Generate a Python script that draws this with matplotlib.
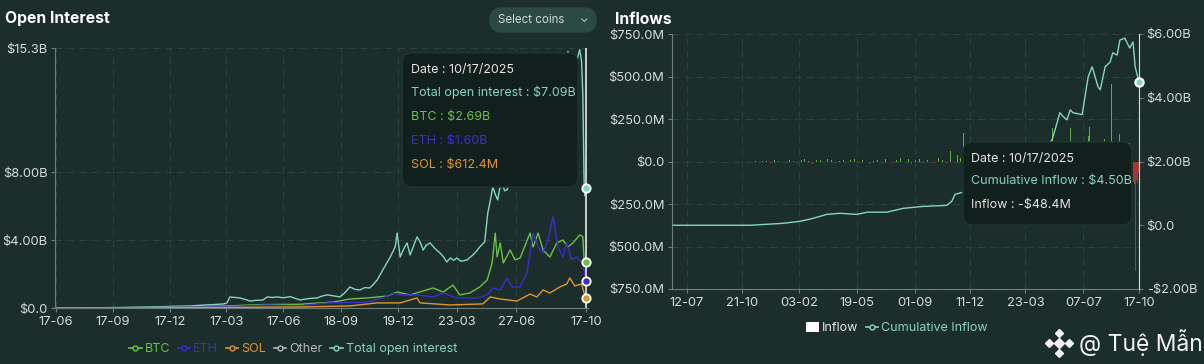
import numpy as np
import pandas as pd
import matplotlib
matplotlib.use('Agg')
import matplotlib.pyplot as plt
from matplotlib.patches import FancyBboxPatch, Patch
from matplotlib.lines import Line2D
from matplotlib.transforms import IdentityTransform

plt.rcParams['font.family'] = ['Inter', 'DejaVu Sans']

W, H = 1204, 364
ORIGIN = pd.Timestamp('2023-06-17')   # day 0 for every x value below

# ---------------- open interest ($B) ----------------
total_days = [0, 40, 80, 120, 151, 190, 216, 240, 253, 270,
              275, 280, 288, 296, 305, 312, 322, 333, 340, 348,
              356, 366, 377, 393, 405, 420, 428, 436, 446, 457,
              465, 473, 481, 489, 497, 505, 511, 517, 526, 538,
              546, 549, 554, 560, 565, 570, 575, 581, 586, 591,
              596, 602, 610, 618, 624, 629, 635, 640, 645, 652,
              662, 667, 671, 677, 682, 690, 695, 700, 703, 708,
              711, 714, 718, 722, 726, 730, 736, 742, 747, 755,
              763, 770, 779, 787, 795, 803, 811, 818, 824, 830,
              835, 840, 843, 846, 848, 850, 851, 853]
total_oi = [0.0, 0.01, 0.02, 0.04, 0.06, 0.10, 0.12, 0.18, 0.20, 0.24,
            0.30, 0.65, 0.62, 0.59, 0.50, 0.41, 0.45, 0.47, 0.65, 0.62,
            0.65, 0.60, 0.67, 0.47, 0.55, 0.59, 0.70, 0.77, 0.72, 0.65,
            0.90, 1.24, 1.10, 1.06, 1.20, 1.18, 1.40, 1.65, 2.24, 3.00,
            3.60, 4.41, 3.00, 3.50, 3.83, 3.12, 3.60, 4.18, 3.90, 3.41,
            3.70, 3.83, 3.50, 3.24, 3.00, 2.71, 2.95, 2.80, 2.94, 2.75,
            2.83, 3.00, 3.12, 3.35, 3.59, 3.88, 5.59, 6.50, 7.12, 6.60,
            6.36, 7.00, 7.36, 6.90, 6.95, 7.40, 7.36, 8.30, 9.00, 10.2,
            11.0, 12.0, 13.0, 12.2, 12.0, 13.1, 14.0, 13.2, 15.1, 14.2,
            13.5, 14.8, 15.2, 14.5, 12.5, 7.5, 6.6, 7.09]

btc_days = [0, 150, 216, 275, 328, 393, 446, 473, 500, 533,
            549, 570, 607, 623, 639, 650, 666, 682, 694, 702,
            707, 710, 715, 720, 731, 739, 747, 763, 768, 776,
            784, 795, 806, 816, 824, 832, 843, 848, 850, 853]
btc_oi = [0.0, 0.02, 0.06, 0.12, 0.20, 0.22, 0.35, 0.53, 0.59, 0.70,
          0.94, 0.77, 1.18, 0.94, 1.35, 0.77, 0.88, 1.24, 1.65, 2.65,
          4.41, 3.00, 3.83, 2.65, 3.41, 2.83, 2.94, 4.41, 3.59, 4.41,
          3.41, 3.00, 3.83, 4.00, 3.59, 3.83, 4.30, 4.20, 2.83, 2.69]

eth_days = [0, 150, 275, 340, 393, 436, 500, 526, 542, 554,
            581, 607, 623, 645, 678, 694, 703, 715, 726, 734,
            747, 758, 768, 776, 784, 792, 800, 808, 816, 822,
            830, 838, 846, 850, 853]
eth_oi = [0.0, 0.02, 0.08, 0.18, 0.12, 0.30, 0.35, 0.59, 0.88, 0.77,
          0.77, 0.65, 0.88, 0.59, 0.59, 0.77, 1.18, 1.06, 1.77, 1.24,
          1.24, 2.06, 4.41, 3.59, 3.24, 4.00, 5.36, 3.59, 3.00, 3.83,
          2.83, 3.00, 2.71, 2.24, 1.60]

sol_days = [0, 150, 300, 393, 473, 517, 554, 581, 586, 634,
            687, 699, 715, 742, 763, 774, 784, 795, 811, 822,
            827, 835, 846, 850, 853]
sol_oi = [0.0, 0.01, 0.04, 0.06, 0.12, 0.30, 0.30, 0.59, 0.30, 0.18,
          0.24, 0.65, 0.53, 0.41, 0.82, 0.65, 1.06, 0.88, 1.24, 1.41,
          1.77, 1.30, 1.41, 0.88, 0.612]

oi_tick_dates = ['2023-06-17', '2023-09-17', '2023-12-17', '2024-03-17', '2024-06-17',
                 '2024-09-18', '2024-12-19', '2025-03-23', '2025-06-27', '2025-10-17']
oi_yticks = [0, 4, 8, 15.3]
oi_ylabels = ['$0.0', '$4.00B', '$8.00B', '$15.3B']

# ---------------- inflows ----------------
cum_days = [0, 140, 201, 232, 250, 281, 305, 336, 355, 391,
            421, 457, 501, 510, 516, 529, 562, 598, 635, 663,
            681, 694, 703, 708, 714, 721, 727, 732, 749, 754,
            760, 767, 769, 778, 782, 791, 800, 805, 813, 818,
            827, 836, 842, 846, 853]
cum_inflow = [0.0, 0.0, 0.06, 0.125, 0.19, 0.34, 0.375, 0.34, 0.41, 0.41,
              0.53, 0.59, 0.625, 0.75, 0.97, 1.03, 1.12, 1.28, 1.60, 1.90,
              2.37, 2.69, 3.22, 3.53, 3.41, 3.31, 3.62, 3.53, 3.47, 4.03,
              4.66, 4.97, 4.87, 4.34, 4.25, 4.97, 5.12, 5.41, 5.34, 5.81,
              5.87, 5.56, 5.75, 4.97, 4.50]

# small daily flows ($M), one every 7 days from day 150
small_flows = [3, -2, 5, 4, -6, 8, 2, 6, -4, 10,
               5, -8, 7, 12, 4, -15, 9, 6, -5, 14,
               8, -10, 5, 11, -6, 7, 13, -9, 6, 18,
               -12, 4, 9, -7, 15, 6, -11, 8, 20, -5,
               12, -14, 7, 16, -8, 10, 5, -6, 22, 9, -10]
flow_days = [508, 514, 520, 526, 531, 538, 545, 552, 560, 568,
             575, 583, 590, 598, 605, 612, 620, 628, 636, 644,
             652, 660, 668, 676, 684, 690, 694, 698, 703, 708,
             714, 718, 723, 727, 732, 737, 742, 746, 750, 754,
             757, 760, 763, 767, 771, 775, 779, 782, 786, 790,
             794, 798, 802, 806, 809, 813, 818, 822, 827, 831,
             836, 840, 842, 843, 844, 845, 846, 847, 848, 849,
             850, 851, 852, 853]
flows = [60, -12, 40, 18, 170, 25, -8, 30, 12, -10,
         22, 15, -6, 28, 10, -14, 20, 35, 8, -9,
         25, 40, 15, -12, 30, 55, 200, 45, 120, 70,
         100, 60, 235, 200, 80, -20, 60, 90, 45, 290,
         110, 150, 205, 70, 40, 90, 120, 55, 75, 130,
         60, 85, 455, 95, 200, 60, 160, 70, 90, 50,
         110, 40, -135, -120, -60, -130, -645, -100, -110, -90,
         -125, -80, -70, -48.4]

flow_tick_dates = ['2023-07-12', '2023-10-21', '2024-02-03', '2024-05-19', '2024-09-01',
                   '2024-12-11', '2025-03-23', '2025-07-07', '2025-10-17']
flow_yticks = [-750, -500, -250, 0, 250, 500, 750]
flow_ylabels = ['$750.0M', '$500.0M', '$250.0M', '$0.0', '$250.0M', '$500.0M', '$750.0M']
cum_yticks = [-2, 0, 2, 4, 6]
cum_ylabels = ['-$2.00B', '$0.0', '$2.00B', '$4.00B', '$6.00B']

# ---------------- style ----------------
BG = '#1b2e2b'
GRID = '#2d413e'
SPINE = '#6f7d7a'
TXT = '#d6dbda'
C_TOTAL = '#86d5c0'
C_BTC = '#6cc142'
C_ETH = '#3a2ecb'
C_SOL = '#e0962e'
C_OTHER = '#b8b8b8'
C_GREEN = '#5fae3a'
C_RED = '#a83434'
TIP_BG = '#12201d'


def tick_days(dates):
    return [(pd.Timestamp(d) - ORIGIN).days for d in dates]


def tick_names(dates):
    return [pd.Timestamp(d).strftime('%d-%m') for d in dates]


def style_axis(ax):
    ax.set_facecolor('none')
    for s in ['top', 'right']:
        ax.spines[s].set_visible(False)
    ax.spines['left'].set_color(SPINE)
    ax.spines['bottom'].set_color(SPINE)
    ax.tick_params(colors=SPINE, labelcolor=TXT, labelsize=9.3, length=3, width=0.8, pad=2.5)
    ax.grid(True, color=GRID, linestyle=(0, (6, 5)), linewidth=0.8)
    ax.set_axisbelow(True)


def px_text(x, y, s, **kw):
    fig.text(x, H - y, s, transform=IdentityTransform(), **kw)


def px_box(x0, y0, x1, y1, fc, ec, r=10):
    fig.add_artist(FancyBboxPatch((x0, H - y1), x1 - x0, y1 - y0,
                                  boxstyle='round,pad=0,rounding_size=%d' % r,
                                  transform=IdentityTransform(), fc=fc, ec=ec, lw=1))


fig = plt.figure(figsize=(W / 100, H / 100), dpi=100, facecolor=BG)

# ---------------- open interest panel ----------------
ax = fig.add_axes([55 / W, 56 / H, 533 / W, 260 / H])
style_axis(ax)
ax.plot(total_days, total_oi, color=C_TOTAL, lw=1.0)
ax.plot(btc_days, btc_oi, color=C_BTC, lw=1.0)
ax.plot(eth_days, eth_oi, color=C_ETH, lw=1.0)
ax.plot(sol_days, sol_oi, color=C_SOL, lw=1.0)
ax.axvline(total_days[-1], color='#e6e6e6', lw=1.2)
for d, v, c in [(total_days[-1], total_oi[-1], C_TOTAL), (btc_days[-1], btc_oi[-1], C_BTC),
                (eth_days[-1], eth_oi[-1], C_ETH), (sol_days[-1], sol_oi[-1], C_SOL)]:
    ax.plot(d, v, 'o', ms=6, mfc=c, mec='white', mew=1.3, clip_on=False, zorder=5)
ax.set_xlim(-1.6, 856.3)
ax.set_ylim(0, 15.3)
ax.set_yticks(oi_yticks, oi_ylabels)
ax.set_xticks(tick_days(oi_tick_dates), tick_names(oi_tick_dates))

# ---------------- inflows panel ----------------
ax2 = fig.add_axes([672 / W, 75 / H, 467 / W, 255 / H])
style_axis(ax2)
small_days = np.arange(150, 150 + 7 * len(small_flows), 7)
all_days = list(small_days) + flow_days
all_flows = small_flows + flows
ax2.bar(all_days, all_flows, width=1.6, linewidth=0,
        color=[C_GREEN if v >= 0 else C_RED for v in all_flows])
ax2.set_xlim(-2.5, 853)
ax2.set_ylim(-750, 750)
ax2.set_yticks(flow_yticks, flow_ylabels)
ax2.set_xticks(tick_days(flow_tick_dates), tick_names(flow_tick_dates))

ax3 = ax2.twinx()
ax3.set_facecolor('none')
for s in ['top', 'left', 'bottom']:
    ax3.spines[s].set_visible(False)
ax3.spines['right'].set_color('#dcdcdc')
ax3.plot(cum_days, cum_inflow, color=C_TOTAL, lw=1.0)
ax3.plot(cum_days[-1], cum_inflow[-1], 'o', ms=6, mfc=C_TOTAL, mec='white', mew=1.5,
         clip_on=False, zorder=5)
ax3.set_ylim(-2, 6)
ax3.set_xlim(-2.5, 853)
ax3.set_yticks(cum_yticks, cum_ylabels)
ax3.tick_params(colors=SPINE, labelcolor=TXT, labelsize=9.3, length=3, width=0.8, pad=2.5)

# ---------------- titles, button ----------------
px_text(5, 18, 'Open Interest', color='white', fontsize=11.3, fontweight='bold', va='center')
px_text(615, 20, 'Inflows', color='white', fontsize=11.3, fontweight='bold', va='center')
px_box(490, 8, 596, 32, '#2c4a44', '#2c4a44', r=12)
px_text(498, 20, 'Select coins', color='#cfd6d4', fontsize=8.3, va='center')
px_text(580, 19, '⌄', color='#cfd6d4', fontsize=8, va='center')

# ---------------- tooltips ----------------
px_box(402, 53, 578, 187, TIP_BG, '#22332f')
px_text(411, 70, 'Date : 10/17/2025', color='#e4e4e4', fontsize=9, va='center')
px_text(411, 92, 'Total open interest : $7.09B', color=C_TOTAL, fontsize=9, va='center')
px_text(411, 117, 'BTC : $2.69B', color=C_BTC, fontsize=9, va='center')
px_text(411, 141, 'ETH : $1.60B', color=C_ETH, fontsize=9, va='center')
px_text(411, 165, 'SOL : $612.4M', color=C_SOL, fontsize=9, va='center')

px_box(963, 142, 1132, 225, TIP_BG, '#22332f')
px_text(971, 159, 'Date : 10/17/2025', color='#e4e4e4', fontsize=9, va='center')
px_text(971, 181, 'Cumulative Inflow : $4.50B', color=C_TOTAL, fontsize=9, va='center')
px_text(971, 205, 'Inflow : -$48.4M', color='#e4e4e4', fontsize=9, va='center')

# ---------------- legends ----------------
def mk(c):
    return Line2D([], [], color=c, lw=1.2, marker='o', ms=3.5, mfc=BG, mew=1)


leg = fig.legend([mk(C_BTC), mk(C_ETH), mk(C_SOL), mk(C_OTHER), mk(C_TOTAL)],
                 ['BTC', 'ETH', 'SOL', 'Other', 'Total open interest'],
                 loc='center', bbox_to_anchor=(293 / W, 1 - 349 / H), ncol=5, frameon=False,
                 fontsize=9, handlelength=1.0, handletextpad=0.25, columnspacing=0.6)
for t, c in zip(leg.get_texts(), [C_BTC, C_ETH, C_SOL, C_OTHER, C_TOTAL]):
    t.set_color(c)

leg2 = fig.legend([Patch(fc='white'), mk(C_TOTAL)], ['Inflow', 'Cumulative Inflow'],
                  loc='center', bbox_to_anchor=(897 / W, 1 - 328 / H), ncol=2, frameon=False,
                  fontsize=9, handlelength=1.0, handleheight=0.9, handletextpad=0.25,
                  columnspacing=0.6)
for t, c in zip(leg2.get_texts(), ['#e8e8e8', C_TOTAL]):
    t.set_color(c)

# ---------------- watermark ----------------
for dx, dy, s in [(0, 0, 5), (-10, 0, 4), (10, 0, 4), (0, -10, 4), (0, 10, 4)]:
    fig.add_artist(Line2D([1059 + dx], [H - 343 + dy], marker='D', ms=s, color='#f0f0f0',
                          transform=IdentityTransform()))
px_text(1079, 343, '@ Tuệ Mẫn', color='#f2f2f2', fontsize=16.5, va='center')

fig.savefig('out.png', dpi=100, facecolor=BG)
